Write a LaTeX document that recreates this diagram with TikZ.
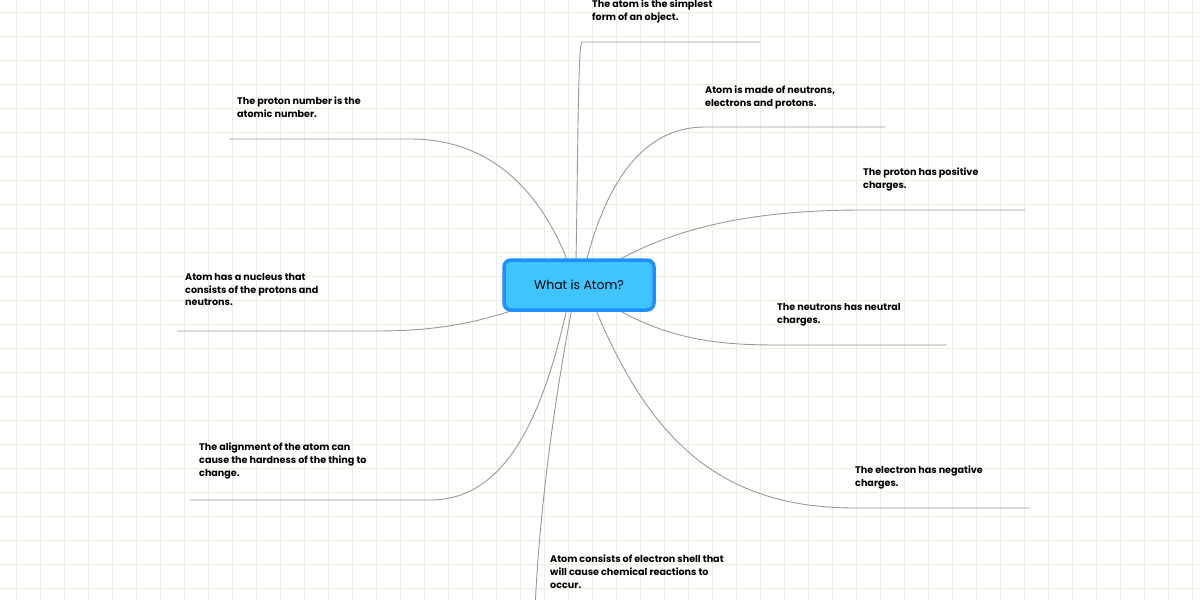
\documentclass[tikz,border=0pt]{standalone}
\usepackage{fontspec}
\setmainfont{Poppins}
\begin{document}
\begin{tikzpicture}[x=1pt,y=-1pt,
 lbl/.style={anchor=north west,align=left,inner sep=0pt,font=\fontsize{9.6}{12.8}\selectfont\bfseries,text=black},
 br/.style={draw=gray!80,line width=0.9pt},
 center/.style={draw={rgb,255:red,30;green,143;blue,255},line width=3.5pt,fill={rgb,255:red,64;green,196;blue,255},rounded corners=7pt,minimum width=150pt,minimum height=50pt,font=\fontsize{12.5}{15}\selectfont}]
\useasboundingbox (0,0) rectangle (1200,600);
\fill[white] (0,0) rectangle (1200,600);
\foreach \i in {0,...,49} \draw[color={rgb,255:red,230;green,242;blue,218},line width=0.8pt] (16.5+24*\i,0) -- (16.5+24*\i,600);
\foreach \j in {0,...,24} \draw[color={rgb,255:red,230;green,242;blue,218},line width=0.8pt] (0,12.5+24*\j) -- (1200,12.5+24*\j);
% branches
\coordinate (a1) at (582,42); \coordinate (b1) at (760,42);
\coordinate (a2) at (705,127); \coordinate (b2) at (885,127);
\coordinate (a3) at (863,210); \coordinate (b3) at (1025,210);
\coordinate (a4) at (777,345); \coordinate (b4) at (947,345);
\coordinate (a5) at (855,508); \coordinate (b5) at (1030,508);
\coordinate (a6) at (535,610); \coordinate (b6) at (780,610);
\coordinate (a7) at (430,500); \coordinate (b7) at (190,500);
\coordinate (a8) at (375,331); \coordinate (b8) at (177,331);
\coordinate (a9) at (410,139); \coordinate (b9) at (229,139);
\draw[br] (576,262) .. controls (578,150) and (578,42) .. (a1) -- (b1);
\draw[br] (586,262) .. controls (610,170) and (650,127) .. (a2) -- (b2);
\draw[br] (615,262) .. controls (680,225) and (760,210) .. (a3) -- (b3);
\draw[br] (615,308) .. controls (670,340) and (720,345) .. (a4) -- (b4);
\draw[br] (595,308) .. controls (650,440) and (720,508) .. (a5) -- (b5);
\draw[br] (572,308) .. controls (545,450) and (537,560) .. (a6) -- (b6);
\draw[br] (567,308) .. controls (540,430) and (500,500) .. (a7) -- (b7);
\draw[br] (520,308) .. controls (470,325) and (430,331) .. (a8) -- (b8);
\draw[br] (568,262) .. controls (540,190) and (490,139) .. (a9) -- (b9);
\node[center] (c) at (579,285) {What is Atom?};
\node[lbl] (t1) at (592,0) {The atom is the simplest\\form of an object.};
\node[lbl] (t2) at (705,86) {Atom is made of neutrons,\\electrons and protons.};
\node[lbl] (t3) at (863,168) {The proton has positive\\charges.};
\node[lbl] (t4) at (777,303) {The neutrons has neutral\\charges.};
\node[lbl] (t5) at (855,466) {The electron has negative\\charges.};
\node[lbl] (t6) at (550,555) {Atom consists of electron shell that\\will cause chemical reactions to\\occur.};
\node[lbl] (t7) at (199,443) {The alignment of the atom can\\cause the hardness of the thing to\\change.};
\node[lbl] (t8) at (185,273) {Atom has a nucleus that\\consists of the protons and\\neutrons.};
\node[lbl] (t9) at (237,97) {The proton number is the\\atomic number.};
\end{tikzpicture}
\end{document}
